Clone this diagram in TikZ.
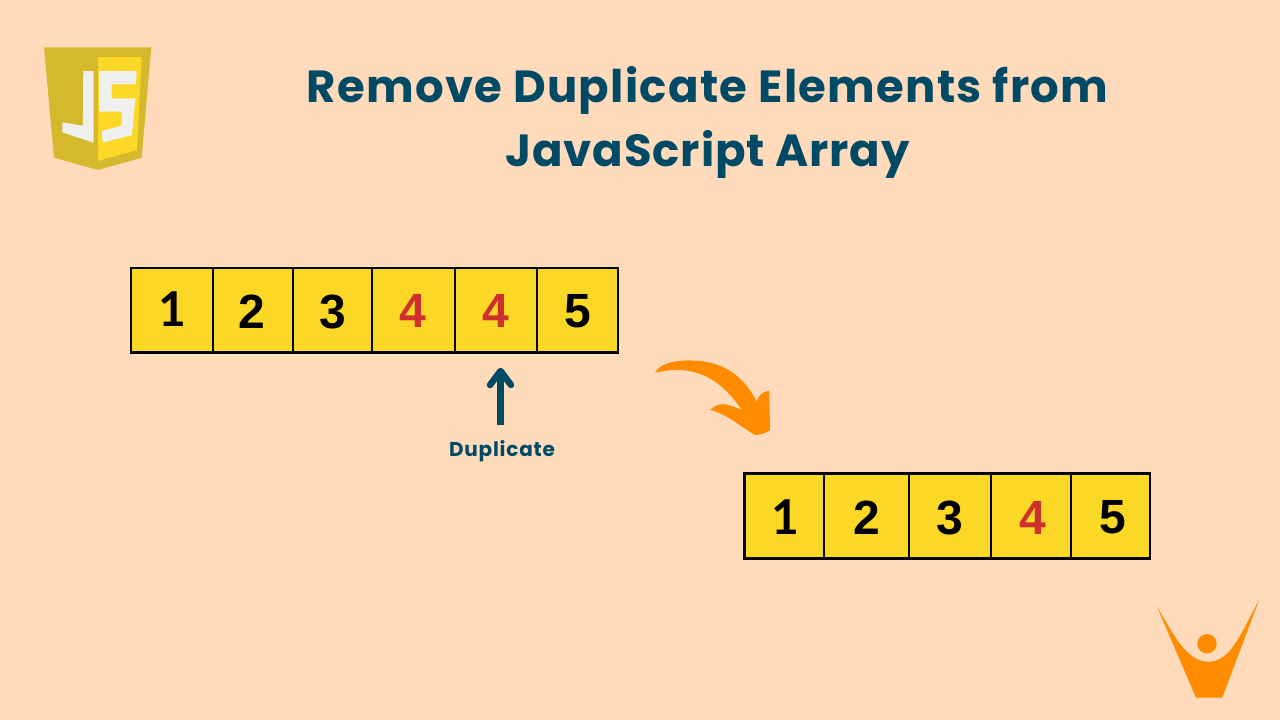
\documentclass[tikz,border=0pt]{standalone}
\usepackage{fontspec}
\setmainfont{Poppins}
\newfontfamily\titlefont{Poppins}[LetterSpace=2.9]
\newfontfamily\titlefontb{Poppins}[LetterSpace=2.05]
\newfontfamily\labelfont{Poppins}[LetterSpace=3.9]
\newfontfamily\numfont{Liberation Sans}
\newfontfamily\onefont{Lato}
\definecolor{bgc}{HTML}{FFDBBB}
\definecolor{navy}{HTML}{004A66}
\definecolor{cell}{HTML}{FBD825}
\definecolor{redn}{HTML}{CE3030}
\definecolor{orng}{HTML}{FF8C00}
\definecolor{jsdark}{HTML}{D5B82B}
\definecolor{jslight}{HTML}{FBD825}
\definecolor{jswhite}{HTML}{EFEFEF}
\tikzset{
  titletext/.style={text=navy,inner sep=0pt,anchor=base},
  cellbox/.style={draw=black,line width=2.5pt,fill=cell,inner sep=0pt},
  num/.style={font=\numfont\bfseries\fontsize{48}{48}\selectfont,inner sep=0pt,anchor=base,text=black},
  numone/.style={font=\onefont\bfseries\fontsize{48}{48}\selectfont,inner sep=0pt,anchor=base,text=black},
  dup/.style={num,text=redn},
  difline/.style={draw=black,line width=2pt}
}
\begin{document}
\begin{tikzpicture}[x=1pt,y=-1pt]
\useasboundingbox (0,0) rectangle (1280,720);
\fill[bgc] (0,0) rectangle (1280,720);
% JS shield
\fill[jsdark] (44,47.3) -- (151.3,47.3) -- (141.7,157.7) -- (98,170) -- (54,157.7) -- cycle;
\fill[jslight] (98,57) -- (141.7,57) -- (137,150) -- (98,161) -- cycle;
\fill[jswhite] (83.3,71) -- (93.7,71) -- (93.7,142.7) -- (62.3,132.3) -- (62.3,122.3) -- (82.9,125.7) -- cycle;
\fill[jswhite] (99,71) -- (136.7,71) -- (136,84.3) -- (111.7,84.3) -- (111.7,98.3) -- (135.3,98.3) -- (132,135) -- (102.7,142.7) -- (102,131) -- (121.3,125.7) -- (122,111.7) -- (99.3,111.7) -- cycle;
% Title
\node[titletext,font=\titlefont\bfseries\fontsize{45}{45}\selectfont] (t1) at (707.5,102) {Remove Duplicate Elements from};
\node[titletext,font=\titlefontb\bfseries\fontsize{45}{45}\selectfont] (t2) at (707.5,166) {JavaScript Array};
% Array 1
\node[cellbox,minimum width=487pt,minimum height=84.5pt] (arrA) at (374.5,310) {};
\draw[difline] (212.7,268) -- (212.7,352);
\draw[difline] (293.3,268) -- (293.3,352);
\draw[difline] (371.5,268) -- (371.5,352);
\draw[difline] (455,268) -- (455,352);
\draw[difline] (537,268) -- (537,352);
\node[numone] (a1) at (172,326.7) {1};
\node[num] (a2) at (251.5,328.3) {2};
\node[num] (a3) at (332.5,328) {3};
\node[dup] (a4) at (413,327.7) {4};
\node[dup] (a5) at (495.7,327.7) {4};
\node[num] (a6) at (578,327.7) {5};
% Duplicate arrow
\node[font=\labelfont\bfseries\fontsize{20}{20}\selectfont,text=navy,inner sep=0pt,anchor=base] (dupl) at (502,456) {Duplicate};
\coordinate (dupTail) at (500.6,424.5);
\coordinate (dupTip) at (500.6,371);
\draw[navy,line width=6.5pt] (dupTail) -- (dupTip);
\draw[navy,line width=6.5pt,line cap=round,line join=round] (490,385) -- (dupTip) -- (511,385);
% Curved orange arrow
\fill[orng] (655,372.7) .. controls (660,362) and (680,360) .. (692,360.5)
  .. controls (725,361) and (745,378) .. (756.7,401.7)
  .. controls (759,393) and (765,391.5) .. (769.3,390.7)
  -- (770,430) .. controls (765,433.5) and (760,435) .. (755,435)
  .. controls (740,426) and (725,413) .. (710,410)
  .. controls (720,400) and (730,405) .. (741.7,410)
  .. controls (725,385) and (700,362) .. (655,372.7) -- cycle;
% Array 2
\node[cellbox,minimum width=405.5pt,minimum height=85pt] (arrB) at (947,515.8) {};
\draw[difline] (824.2,474) -- (824.2,558);
\draw[difline] (908.5,474) -- (908.5,558);
\draw[difline] (991.2,474) -- (991.2,558);
\draw[difline] (1070.8,474) -- (1070.8,558);
\node[numone] (b1) at (785,534) {1};
\node[num] (b2) at (866.5,534) {2};
\node[num] (b3) at (950,534) {3};
\node[dup] (b4) at (1032.6,534) {4};
\node[num] (b5) at (1112.4,533) {5};
% Logo
\fill[orng] (1156.7,606) .. controls (1172,632) and (1186,661.7) .. (1208.3,661.7)
  .. controls (1230,661.7) and (1240,636) .. (1259.3,599.3)
  -- (1222.3,697.7) -- (1196,697.7) -- cycle;
\fill[orng] (1207,643.7) circle (9.7);
\end{tikzpicture}
\end{document}
